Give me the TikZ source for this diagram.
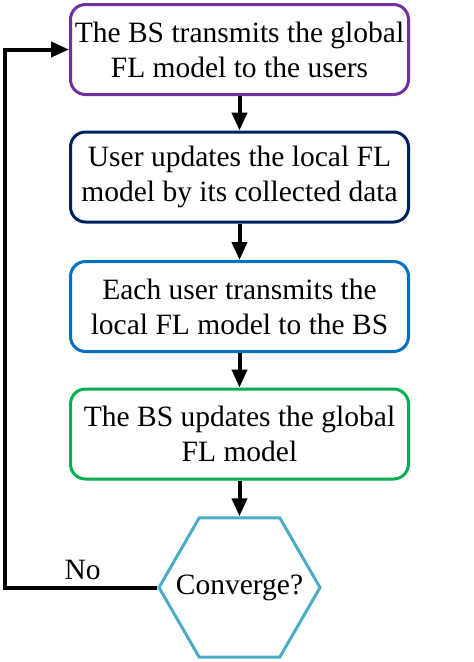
\documentclass[tikz,border=0pt]{standalone}
\usepackage{fontspec}
\setmainfont{Liberation Serif}
\usetikzlibrary{arrows.meta, shapes.geometric}

\definecolor{bspurple}{RGB}{112,48,160}
\definecolor{usernavy}{RGB}{0,32,96}
\definecolor{upblue}{RGB}{0,112,192}
\definecolor{agggreen}{RGB}{0,176,80}
\definecolor{convteal}{RGB}{75,172,198}

\begin{document}
\begin{tikzpicture}[x=1pt, y=-1pt,
        stage/.style={draw, line width=3pt, rounded corners=15pt, minimum width=338pt, minimum height=90pt,
            align=center, inner sep=0pt, font=\fontsize{29.5}{35}\selectfont},
        flow/.style={line width=4pt, -{Triangle[length=18pt, width=15pt]}}]
                \useasboundingbox (0,0) rectangle (474,662);
                \node[stage, bspurple] (bs) at (239.5,49.5) {\color{black}The BS transmits the global\\\color{black}FL model to the users};
                \node[stage, usernavy] (user) at (239.5,177) {\color{black}User updates the local FL\\\color{black}model by its collected data};
                \node[stage, upblue] (upload) at (239.5,306.5) {\color{black}Each user transmits the\\\color{black}local FL model to the BS};
                \node[stage, agggreen] (agg) at (239.5,434) {\color{black}The BS updates the global\\\color{black}FL model};
                \node[draw=convteal, line width=3pt, regular polygon, regular polygon sides=6, minimum size=161pt,
                    inner sep=0pt] (conv) at (239.5,587.5) {};
                \node[font=\fontsize{29.5}{35}\selectfont] (convtext) at (conv) {Converge?};
                \coordinate (back) at (5,0);
                \foreach \a/\b in {bs/user, user/upload, upload/agg, agg/conv}{
                    \draw[flow] (\a) -- (\b);
                }
                \draw[flow] (conv.west) -- node[above=2pt, pos=0.49, font=\fontsize{29.5}{35}\selectfont] (no) {No}
                    (conv.west -| back) |- (bs.west);
            \end{tikzpicture}
\end{document}
